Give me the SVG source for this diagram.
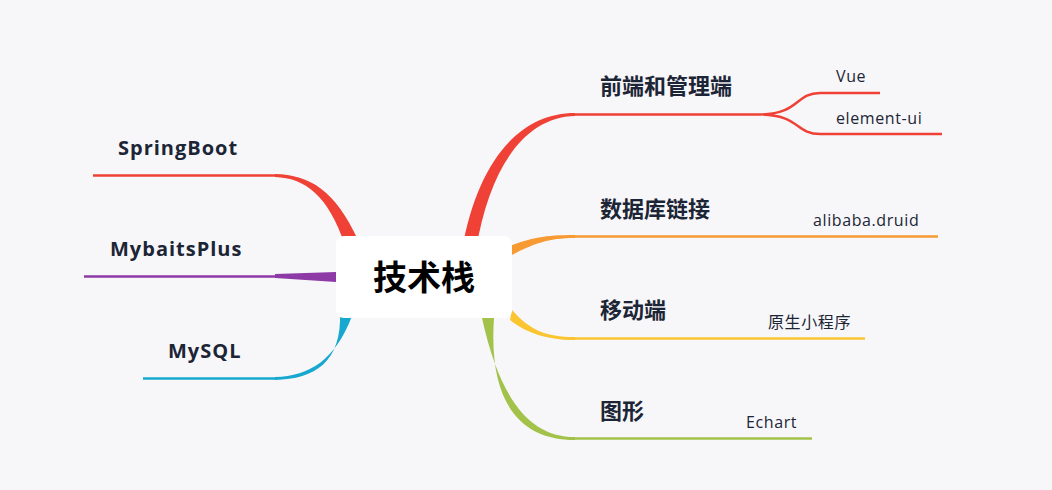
<svg xmlns="http://www.w3.org/2000/svg" width="1052" height="490" viewBox="0 0 1052 490">
<style>
.t{font-family:"Noto Sans CJK SC","Noto Sans",sans-serif;font-weight:bold;font-size:22px;fill:#1c2536}
.e{font-family:"Open Sans","Noto Sans",sans-serif;font-weight:bold;font-size:20px;letter-spacing:1px;fill:#1c2536}
.s{font-family:"Open Sans","Noto Sans CJK SC",sans-serif;font-size:16px;letter-spacing:0.6px;fill:#1c2536}
.l{fill:none;stroke-width:2.5}
</style>
<rect width="1052" height="490" fill="#f7f7f9"/>
<g id="connectors">
<path d="M462,250 C478,160 520,113 575,113 L575,116 C526,117 490,165 476,250 Z" fill="#ef4136"/>
<path class="l" stroke="#ef4136" d="M575,114.5 H760 C800,114 795,93 820,93 H880 M760,114.5 C800,115 795,134 820,134 H942"/>
<path d="M510,246 C530,238 545,235 575,235 L575,238 C548,238 533,244 512,255 Z" fill="#f79a32"/>
<path class="l" stroke="#f79a32" d="M575,236.5 H938"/>
<path d="M512,310 C530,330 545,337 575,337 L575,340 C545,340 525,332 510,320 Z" fill="#fbc531"/>
<path class="l" stroke="#fbc531" d="M575,338.5 H865"/>
<path d="M482,318 C500,400 530,437 575,437 L575,440 C522,440 488,405 494,318 Z" fill="#a3c24a"/>
<path class="l" stroke="#a3c24a" d="M575,438.5 H812"/>
<path d="M358,240 C335,190 310,175 275,174 L275,177 C305,178 328,195 345,245 Z" fill="#ef4136"/>
<path class="l" stroke="#ef4136" d="M93,175.5 H275"/>
<path d="M336,272 L275,274 L275,278 L336,282 Z" fill="#8e3aa6"/>
<path class="l" stroke="#8e3aa6" d="M84,276.5 H275"/>
<path d="M352,316 C335,360 310,376 275,377 L275,380 C315,379 342,362 340,312 Z" fill="#17a8cf"/>
<path class="l" stroke="#17a8cf" d="M143,378.5 H275"/>
</g>
<g id="center"><rect x="336" y="236" width="176" height="82" rx="8" fill="#fff"/>
<text x="424" y="290" text-anchor="middle" font-family="Noto Sans CJK SC,sans-serif" font-weight="bold" font-size="34" fill="#000">技术栈</text></g>
<g id="n1"><text class="t" x="600" y="94">前端和管理端</text></g>
<g id="n1a"><text class="s" x="836" y="82">Vue</text></g>
<g id="n1b"><text class="s" x="836" y="124">element-ui</text></g>
<g id="n2"><text class="t" x="600" y="217">数据库链接</text></g>
<g id="n2a"><text class="s" x="813" y="226">alibaba.druid</text></g>
<g id="n3"><text class="t" x="600" y="318">移动端</text></g>
<g id="n3a"><text class="s" x="768" y="328">原生小程序</text></g>
<g id="n4"><text class="t" x="600" y="419">图形</text></g>
<g id="n4a"><text class="s" x="746" y="428">Echart</text></g>
<g id="n5"><text class="e" x="118" y="155">SpringBoot</text></g>
<g id="n6"><text class="e" x="110" y="256">MybaitsPlus</text></g>
<g id="n7"><text class="e" x="168" y="358">MySQL</text></g>
</svg>
